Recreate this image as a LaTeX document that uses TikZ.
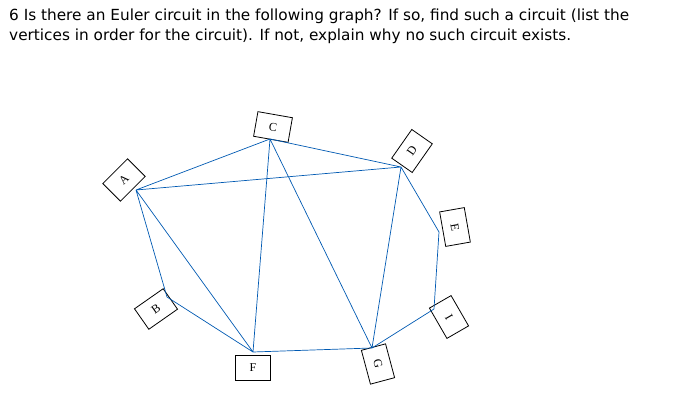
\documentclass[tikz,border=0pt]{standalone}
\usepackage{fontspec}
\newfontfamily\vfont{DejaVu Sans}
\setmainfont{Liberation Serif}
\begin{document}
\begin{tikzpicture}[x=1pt,y=-1pt,
  vbox/.style={draw,line width=0.8pt,minimum width=35pt,minimum height=25pt,inner sep=0pt,font=\fontsize{12}{12}\selectfont},
  edge/.style={draw=blue!50!cyan!70!black,line width=0.7pt}]
\useasboundingbox (0,0) rectangle (694,406);
\node[anchor=north west,align=left,font=\vfont\fontsize{15.3}{20}\selectfont,inner sep=0pt] (title) at (9,9)
 {6 Is there an Euler circuit in the following graph? If so, find such a circuit (list the\\vertices in order for the circuit). If not, explain why no such circuit exists.};
\node[vbox,rotate=-10] (bC) at (273,127) {C};
\node[vbox,rotate=45] (bA) at (124,180) {A};
\node[vbox,rotate=55] (bD) at (412,151) {D};
\node[vbox,rotate=-80] (bE) at (455,227) {E};
\node[vbox,rotate=-60] (bI) at (449,317) {I};
\node[vbox,rotate=-75] (bG) at (378,364) {G};
\node[vbox] (bF) at (253,368) {F};
\node[vbox,rotate=35] (bB) at (156,309) {B};
\coordinate (A) at (136,190);
\coordinate (C) at (270,139);
\coordinate (D) at (401,167);
\coordinate (E) at (439,232);
\coordinate (I) at (434,309);
\coordinate (G) at (372,348);
\coordinate (F) at (253,352);
\coordinate (B) at (167,297);
\draw[edge] (A)--(C) (A)--(D) (A)--(B) (A)--(F) (B)--(F) (C)--(D) (C)--(F) (C)--(G)
  (D)--(G) (D)--(E) (E)--(I) (I)--(G) (F)--(G);
\end{tikzpicture}
\end{document}
